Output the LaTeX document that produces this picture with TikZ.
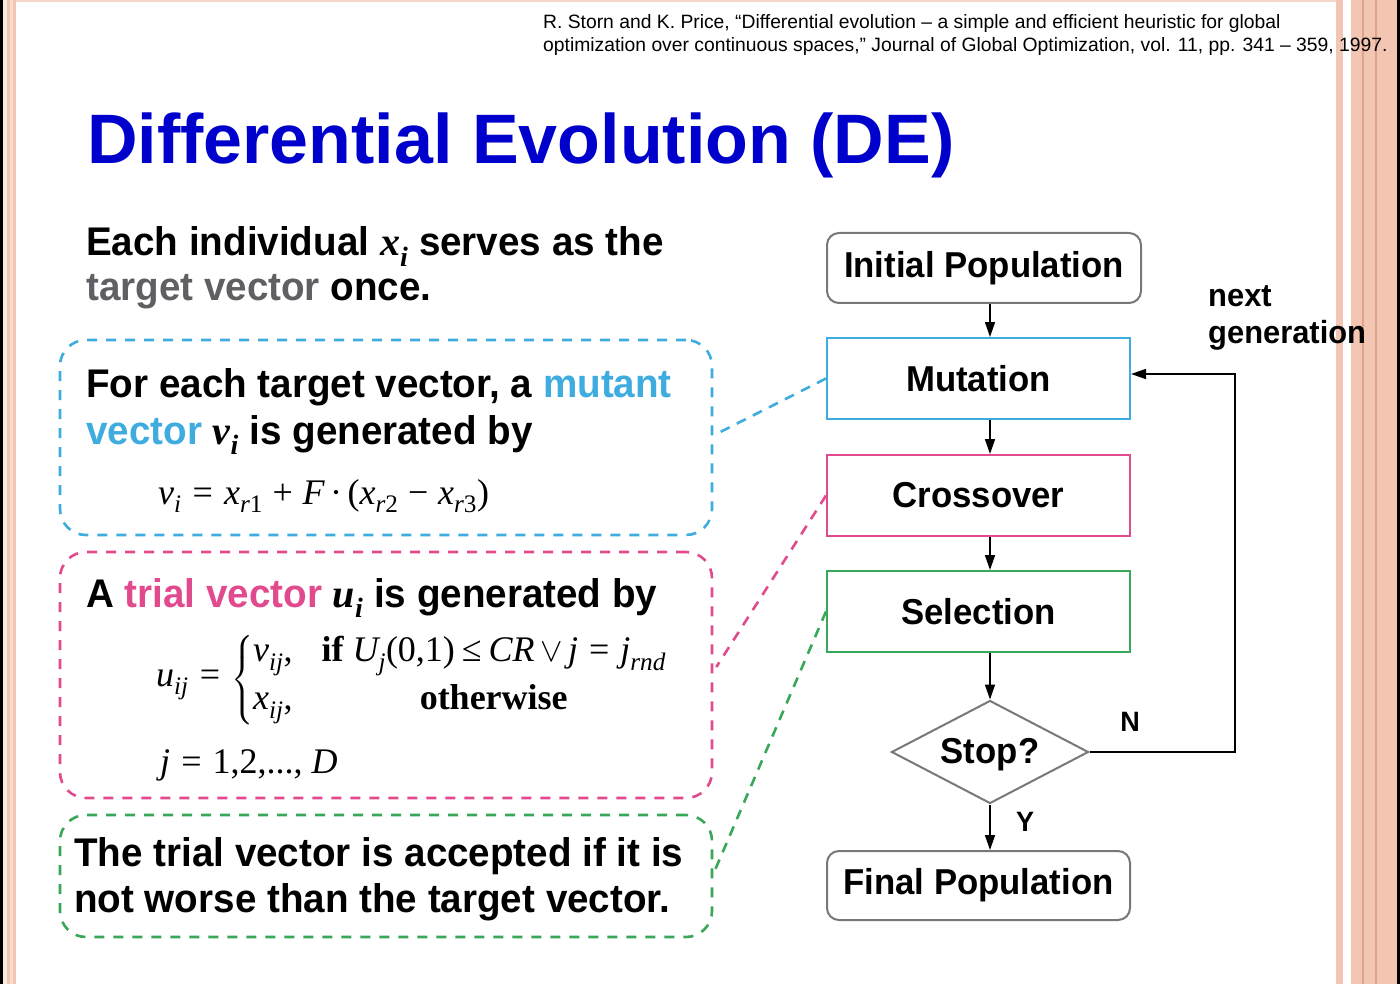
\documentclass[tikz,border=0pt]{standalone}
\usepackage{amsmath}
\usepackage{graphicx}
\usepackage{fontspec}
\setmainfont{Liberation Serif}
\setsansfont{Liberation Sans}
\newfontfamily\txtfont[FakeStretch=0.965]{Liberation Sans}
\usetikzlibrary{shapes.geometric,arrows.meta,calc}
\definecolor{titleblue}{RGB}{0,0,205}
\definecolor{mblue}{RGB}{62,172,222}
\definecolor{mpink}{RGB}{226,74,142}
\definecolor{mgreen}{RGB}{56,168,88}
\definecolor{tgray}{RGB}{95,95,100}
\definecolor{boxgray}{RGB}{120,120,120}
\definecolor{salmon}{RGB}{242,198,178}
\definecolor{salmondk}{RGB}{222,164,136}
\definecolor{cream}{RGB}{252,236,222}
\newcommand\mi[1]{\text{\rmfamily\mdseries\itshape #1}}
\newcommand\mr[1]{\text{\rmfamily\mdseries #1}}
\newcommand\bi[1]{\text{\rmfamily\bfseries\itshape #1}}
\newcommand\br[1]{\text{\rmfamily\bfseries #1}}
\newcommand\mrel[1]{\mathrel{\,\mr{#1}\,}}
\newcommand\mbin[1]{\mathbin{\,\mr{#1}\,}}
\newcommand\fs[1]{\fontsize{#1}{#1}\selectfont}
\begin{document}
\begin{tikzpicture}[x=1pt,y=-1pt,
  txt/.style={inner sep=0pt, anchor=base west, font=\txtfont\bfseries\fs{40}},
  fbox/.style={draw, line width=2pt, minimum width=303pt, minimum height=81pt, inner sep=0pt, font=\txtfont\bfseries\fs{36}},
  dbox/.style={draw, line width=2.6pt, dash pattern=on 10pt off 9pt, rounded corners=26pt, minimum width=652pt, inner sep=0pt},
  arr/.style={line width=1.6pt, -{Triangle[length=15pt,width=10pt]}},
  conn/.style={line width=2.6pt, dash pattern=on 10pt off 8pt}]
\useasboundingbox (0,0) rectangle (1400,984);
% page decorations
\fill[black] (0,0) rectangle (3,984);
\fill[cream] (3,0) rectangle (7,984);
\fill[salmon] (7,0) rectangle (16,984);
\fill[salmon!60] (10,0) rectangle (13,984);
\fill[salmon!70] (16,0) rectangle (1336,2);
\fill[salmon] (1336,0) rectangle (1343,984);
\fill[salmon] (1351,0) rectangle (1397,984);
\fill[salmondk] (1362,0) rectangle (1364,984);
\fill[salmondk] (1375,0) rectangle (1377,984);
\fill[black] (1397,0) rectangle (1400,984);
% citation
\node[inner sep=0pt, anchor=base west, font=\sffamily\fs{19.3}] (cit1) at (543,29) {R. Storn and K. Price, “Differential evolution – a simple and efficient heuristic for global};
\node[inner sep=0pt, anchor=base west, font=\sffamily\fs{19.3}] (cit2) at (543,52) {optimization over continuous spaces,” Journal of Global Optimization, vol. 11, pp. 341 – 359, 1997.};
% title
\node[inner sep=0pt, anchor=base west, font=\sffamily\bfseries\fs{70}, text=titleblue] (title) at (87,164) {Differential Evolution (DE)};
% intro
\node[txt] (l1) at (86,256) {Each individual \smash{$\bi{x}_{\bi{i}}$} serves as the};
\node[txt] (l2) at (86,301) {\textcolor{tgray}{target vector} once.};
% dashed boxes
\node[dbox, draw=mblue, minimum height=195pt] (bbox) at (386,437.5) {};
\node[dbox, draw=mpink, minimum height=246pt] (pbox) at (386,675) {};
\node[dbox, draw=mgreen, minimum height=122pt] (gbox) at (386,876) {};
% blue box text
\node[txt] (b1) at (86,397) {For each target vector, a \textcolor{mblue}{mutant}};
\node[txt] (b2) at (86,444) {\textcolor{mblue}{vector} \smash{$\bi{v}_{\bi{i}}$} is generated by};
\node[inner sep=0pt, anchor=base west, font=\fs{36}] (f1) at (158,504) {$\mi{v}_{\mi{i}} \mrel{=} \mi{x}_{\mi{r}\mr{1}} \mbin{+} \mi{F}\mathbin{\mr{·}}\mr{(}\mi{x}_{\mi{r}\mr{2}} \mbin{−} \mi{x}_{\mi{r}\mr{3}}\mr{)}$};
% pink box text
\node[txt] (p1) at (86,607) {A \textcolor{mpink}{trial vector} \smash{$\bi{u}_{\bi{i}}$} is generated by};
\node[inner sep=0pt, anchor=west, font=\fs{36}] (f2) at (156,680) {$\mi{u}_{\mi{ij}} \mrel{=} \left\{\begin{array}{@{}l@{\hspace{0.8em}}c@{}}
 \mi{v}_{\mi{ij}}\mr{,} & \br{if}\ \mi{U}_{\mi{j}}\mr{(0,1)} \mathrel{\mr{≤}} \mi{CR} \mathbin{\scalebox{1.35}{$\vee$}} \mi{j} \mrel{=} \mi{j}_{\mi{rnd}}\\[12pt]
 \mi{x}_{\mi{ij}}\mr{,} & \br{otherwise}
 \end{array}\right.$};
\node[inner sep=0pt, anchor=base west, font=\fs{36}] (f3) at (160,773) {$\mi{j} \mrel{=} \mr{1,2,..., }\mi{D}$};
% green box text
\node[txt] (g1) at (74,866) {The trial vector is accepted if it is};
\node[txt] (g2) at (74,912) {not worse than the target vector.};
% flowchart
\node[fbox, draw=boxgray, rounded corners=12pt, minimum width=314pt, minimum height=70pt] (init) at (984,268) {Initial Population};
\node[fbox, draw=mblue] (mut) at (978.5,378.5) {Mutation};
\node[fbox, draw=mpink] (cross) at (978.5,495.5) {Crossover};
\node[fbox, draw=mgreen] (sel) at (978.5,611.5) {Selection};
\node[diamond, draw=boxgray, line width=2pt, aspect=1.9, minimum width=197pt, minimum height=103pt, inner sep=0pt, text depth=3pt, font=\txtfont\bfseries\fs{36}] (stop) at (990,752) {Stop?};
\node[fbox, draw=boxgray, rounded corners=12pt, minimum height=69pt] (final) at (978.5,885.5) {Final Population};
\coordinate (ax) at (990,0);
\coordinate (fb) at (1235,374);
\draw[arr] (init.south -| ax) -- (mut.north -| ax);
\draw[arr] (mut.south -| ax) -- (cross.north -| ax);
\draw[arr] (cross.south -| ax) -- (sel.north -| ax);
\draw[arr] (sel.south -| stop.north) -- (stop.north);
\draw[arr] (stop.south) -- (final.north -| stop.south);
\draw[arr] (stop.east) -| (fb) -- (fb -| mut.east);
\node[inner sep=0pt, font=\txtfont\bfseries\fs{28}] (ylab) at (1025,822) {Y};
\node[inner sep=0pt, font=\txtfont\bfseries\fs{28}] (nlab) at (1130,722) {N};
\node[inner sep=0pt, anchor=base west, font=\txtfont\bfseries\fs{32}] (ng1) at (1208,306) {next};
\node[inner sep=0pt, anchor=base west, font=\txtfont\bfseries\fs{32}] (ng2) at (1208,343) {generation};
% dashed connectors
\draw[conn, mblue] (mut.west) -- ($(bbox.east)+(6,-5)$);
\draw[conn, mpink] (cross.west) -- ($(pbox.east)+(3,-8)$);
\draw[conn, mgreen] (sel.west) -- ($(gbox.east)+(0,-2)$);
\end{tikzpicture}
\end{document}
